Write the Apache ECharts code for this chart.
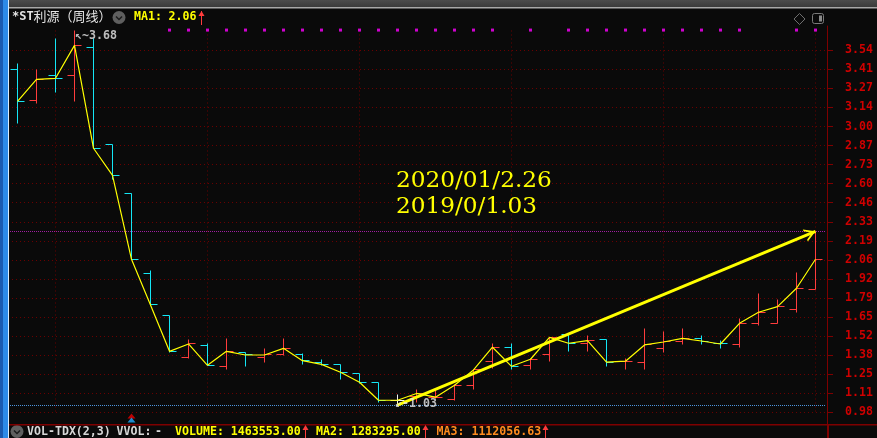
<!DOCTYPE html>
<html><head><meta charset="utf-8">
<style>html,body{margin:0;padding:0;background:#0a0a0a;overflow:hidden}#c{width:877px;height:438px}</style>
<script src="https://cdn.jsdelivr.net/npm/echarts@6/dist/echarts.min.js"></script>
</head><body><div id="c"></div>
<script>
const weeks = Array.from({length:43},(_, i)=>'W'+(i+1));
const opens = [3.405,3.186,3.363,3.363,3.561,2.875,2.529,1.963,1.661,1.369,1.454,1.305,1.401,1.369,1.387,1.390,1.331,1.319,1.256,1.192,1.065,1.095,1.086,1.072,1.171,1.341,1.440,1.314,1.385,1.529,1.468,1.496,1.338,1.334,1.432,1.482,1.503,1.465,1.461,1.609,1.609,1.708,1.850];
const closes = [3.179,3.335,3.342,3.575,2.847,2.656,2.062,1.739,1.411,1.463,1.312,1.411,1.385,1.385,1.432,1.345,1.319,1.263,1.192,1.065,1.065,1.113,1.087,1.171,1.279,1.440,1.305,1.355,1.510,1.468,1.486,1.334,1.341,1.456,1.477,1.503,1.484,1.463,1.609,1.687,1.727,1.857,2.062];
const highs = [3.450,3.405,3.620,3.680,3.620,2.875,2.529,1.986,1.661,1.498,1.463,1.505,1.404,1.428,1.505,1.397,1.355,1.319,1.256,1.192,1.109,1.138,1.138,1.173,1.284,1.463,1.463,1.362,1.510,1.529,1.526,1.496,1.357,1.574,1.548,1.574,1.526,1.486,1.645,1.821,1.774,1.970,2.260];
const lows = [3.021,3.162,3.240,3.176,2.847,2.628,2.057,1.732,1.406,1.362,1.310,1.279,1.302,1.329,1.383,1.317,1.310,1.215,1.185,1.051,1.030,1.048,1.075,1.062,1.142,1.288,1.279,1.284,1.338,1.408,1.408,1.302,1.279,1.284,1.401,1.456,1.461,1.432,1.437,1.597,1.609,1.684,1.850];
const yTicks = [0.98,1.114,1.249,1.384,1.519,1.654,1.788,1.923,2.058,2.193,2.327,2.462,2.597,2.731,2.866,3.0,3.136,3.27,3.406,3.54];
const signalBars = [8,9,10,11,12,13,14,15,16,17,18,19,20,21,22,23,24,25,27,29,30,31,32,33,34,35,36,37,38,41,42];
const signalLevel = 3.683;
const gridBars = [2,10,18,26,34,42];
const highMark = 3.68, lowMark = 1.03, lastHigh = 2.26;
const stockTitle = ['*ST', '利源（周线）'];
const note = ['2020/01/2.26', '2019/0/1.03'];
const ma1Text = ['MA1:', '2.06'];
const statusLeft = 'VOL-TDX(2,3)', statusV = 'VVOL:', statusDash = '-';
const volText = 'VOLUME: 1463553.00', ma2Text = 'MA2: 1283295.00', ma3Text = 'MA3: 1112056.63';

const MONO = '"DejaVu Sans Mono","Liberation Mono",monospace';
const RED = '#ff3c3c', CYAN = '#14e6f5', YEL = '#ffff00', ORG = '#ff8c1e', DR = '#7e0000';
const chart = echarts.init(document.getElementById('c'), null, {renderer:'canvas'});

function renderOHLC(params, api){
  const i = params.dataIndex;
  const x = Math.round(api.coord([i, 1])[0] - 0.5) + 0.5;
  const py = v => Math.round(api.coord([i, v])[1] - 0.5) + 0.5;
  const o = opens[i], c = closes[i];
  const color = c > o ? RED : (c < o ? CYAN : '#f0f0f0');
  const seg = (x1,y1,x2,y2)=>({type:'line', shape:{x1,y1,x2,y2}, style:{stroke:color, fill:null, lineWidth:1, opacity:1}});
  return {type:'group', children:[
    seg(x, py(highs[i]), x, py(lows[i])),
    seg(x-7, py(o), x, py(o)),
    seg(x, py(c), x+7, py(c))
  ]};
}
const txt = (x,y,t,fill,size,font,weight)=>({type:'text', silent:true, z:50, x, y, style:{
  text:t, fill, font:`${weight||'bold'} ${size||11.6}px ${font||MONO}`, textVerticalAlign:'middle'}});
const arrow = (x,y1,y2)=>({type:'group', silent:true, z:50, children:[
  {type:'line', shape:{x1:x+.5,y1,x2:x+.5,y2}, style:{stroke:RED,lineWidth:1}},
  {type:'polygon', shape:{points:[[x+.5,y1],[x-2.5,y1+5],[x+3.5,y1+5]]}, style:{fill:RED}}
]});
const chevron = (cx,cy)=>({type:'group', silent:true, z:50, children:[
  {type:'circle', shape:{cx,cy,r:6.5}, style:{fill:'#5f5f5f'}},
  {type:'polyline', shape:{points:[[cx-3,cy-1],[cx,cy+2],[cx+3,cy-1]]}, style:{stroke:'#1c1c1c',fill:'none',lineWidth:1.5}}
]});
const rect = (x,y,width,height,fill)=>({type:'rect', silent:true, z:40, shape:{x,y,width,height}, style:{fill}});

const option = {
  animation:false,
  backgroundColor:'#0a0a0a',
  grid:{left:8, top:26, width:817, height:398, containLabel:false},
  xAxis:{type:'category', data:weeks, boundaryGap:true, axisLine:{show:false}, axisTick:{show:false}, axisLabel:{show:false}, splitLine:{show:false}},
  yAxis:{type:'value', position:'right', offset:2, min:0.897, max:3.7118, scale:true,
    axisLine:{show:true, lineStyle:{color:DR, width:1}},
    axisTick:{show:true, length:6, lineStyle:{color:DR}, customValues:yTicks},
    axisLabel:{show:true, margin:18, color:'#d00000', align:'left', fontFamily:MONO, fontWeight:'bold', fontSize:11.6, padding:[3,0,0,0],
      customValues:yTicks, formatter:v=>v.toFixed(2), showMinLabel:true, showMaxLabel:true},
    splitLine:{show:true, lineStyle:{color:'#6a0000', type:[1,3], width:1}}
  },
  series:[
    {type:'custom', name:'OHLC', renderItem:renderOHLC, z:3, clip:false,
     encode:{x:0,y:[1,2,3,4]},
     data:weeks.map((w,i)=>[i,opens[i],closes[i],highs[i],lows[i]])},
    {type:'line', name:'MA1', data:closes, symbol:'none', z:4, lineStyle:{color:YEL,width:1.2},
     markLine:{silent:true, symbol:'none', precision:4, z:1, label:{show:false}, animation:false,
       data:[
         ...gridBars.map(b=>[{coord:[b,highMark], lineStyle:{color:'#6a0000',type:[1,3],width:1}},{coord:[b,0.98]}]),
         {yAxis:lastHigh, lineStyle:{color:'#a01ea0',type:[1,1],width:1}},
         {yAxis:lowMark, lineStyle:{color:'#4c94dc',type:[1,1],width:1}}
       ]}},
    {type:'line', name:'Trend', data:[], z:6,
     markLine:{silent:true, z:6, precision:4, symbol:['none','path://M0,0 L10,10 L7,10 L0,3.5 L-7,10 L-10,10 Z M0,-10 L0.01,-10 L0,-9.99 Z'], symbolSize:[13,22], label:{show:false},
       lineStyle:{color:YEL, width:3, type:'solid'}, itemStyle:{color:YEL},
       data:[[{coord:[20,lowMark]},{coord:[42,lastHigh]}]]}},
    {type:'scatter', name:'Peak', z:9, symbol:'circle', symbolSize:1, itemStyle:{color:'rgba(0,0,0,0)'},
     data:[
       {value:[3,highMark], label:{show:true, position:'right', distance:0, offset:[0,5], formatter:'↖~'+highMark.toFixed(2), color:'#e8e8e8', fontFamily:MONO, fontWeight:'bold', fontSize:11.6}},
       {value:[20,lowMark], label:{show:true, position:'right', distance:0, offset:[-3,-1], formatter:'↙-'+lowMark.toFixed(2), color:'#e8e8e8', fontFamily:MONO, fontWeight:'bold', fontSize:11.6}}
     ]},
    {type:'scatter', name:'Signal', z:5, symbol:'rect', symbolSize:[3,3], itemStyle:{color:'#ff00ff'},
     data:signalBars.map(b=>[b,signalLevel])},
    {type:'scatter', name:'MarkUp', z:5, symbol:'triangle', symbolSize:[8,5], itemStyle:{color:'#e80000'}, data:[[6,0.954]]},
    {type:'scatter', name:'MarkDown', z:5, symbol:'triangle', symbolSize:[8,5], itemStyle:{color:'#22aaff'}, data:[[6,0.925]]}
  ],
  graphic:[
    {type:'rect', silent:true, z:40, shape:{x:9,y:0,width:868,height:7},
      style:{fill:new echarts.graphic.LinearGradient(0,0,0,1,[{offset:0,color:'#4c4c4c'},{offset:1,color:'#3a3a3a'}])}},
    rect(9,7,868,1.5,'#a8a8a8'),
    rect(0,0,9,438,'#1a5ab0'),
    rect(3,0,5,438,'#2c8ae8'),
    rect(8,0,1,438,'#d8ecff'),
    rect(9,424,868,1.4,DR),
    rect(827,424,2,14,DR),
    txt(12,16.5,stockTitle[0],'#e4e4e4',12),
    txt(33.5,16.5,stockTitle[1],'#e4e4e4',13,'"Noto Sans CJK SC"','normal'),
    chevron(119,17.5),
    txt(134,16.5,ma1Text[0],YEL,11.6),
    txt(168.5,16.5,ma1Text[1],YEL,11.6),
    arrow(201,11,25),
    {type:'polygon', silent:true, z:50, shape:{points:[[799.5,13.5],[805,19],[799.5,24.5],[794,19]]}, style:{fill:'none',stroke:'#6e6e6e',lineWidth:1}},
    {type:'rect', silent:true, z:50, shape:{x:812.5,y:13.5,width:11,height:10,r:2}, style:{fill:'none',stroke:'#7a7a7a',lineWidth:1}},
    rect(819,15.5,3,6,'#8a8a8a'),
    {type:'text', silent:true, z:50, x:396, y:181, style:{text:note[0], fill:YEL, font:'normal 23.2px "DejaVu Serif"', textVerticalAlign:'middle'}},
    {type:'text', silent:true, z:50, x:396, y:207, style:{text:note[1], fill:YEL, font:'normal 23.2px "DejaVu Serif"', textVerticalAlign:'middle'}},
    chevron(17,431.5),
    txt(27,431.5,statusLeft,'#d8d8d8'),
    txt(116.5,431.5,statusV,'#d8d8d8'),
    txt(155,431.5,statusDash,'#d8d8d8'),
    txt(175,431.5,volText,YEL),
    arrow(305,425,438),
    txt(316,431.5,ma2Text,YEL),
    arrow(425,425,438),
    txt(436.5,431.5,ma3Text,ORG),
    arrow(545,425,438)
  ]
};
chart.setOption(option);
</script></body></html>
